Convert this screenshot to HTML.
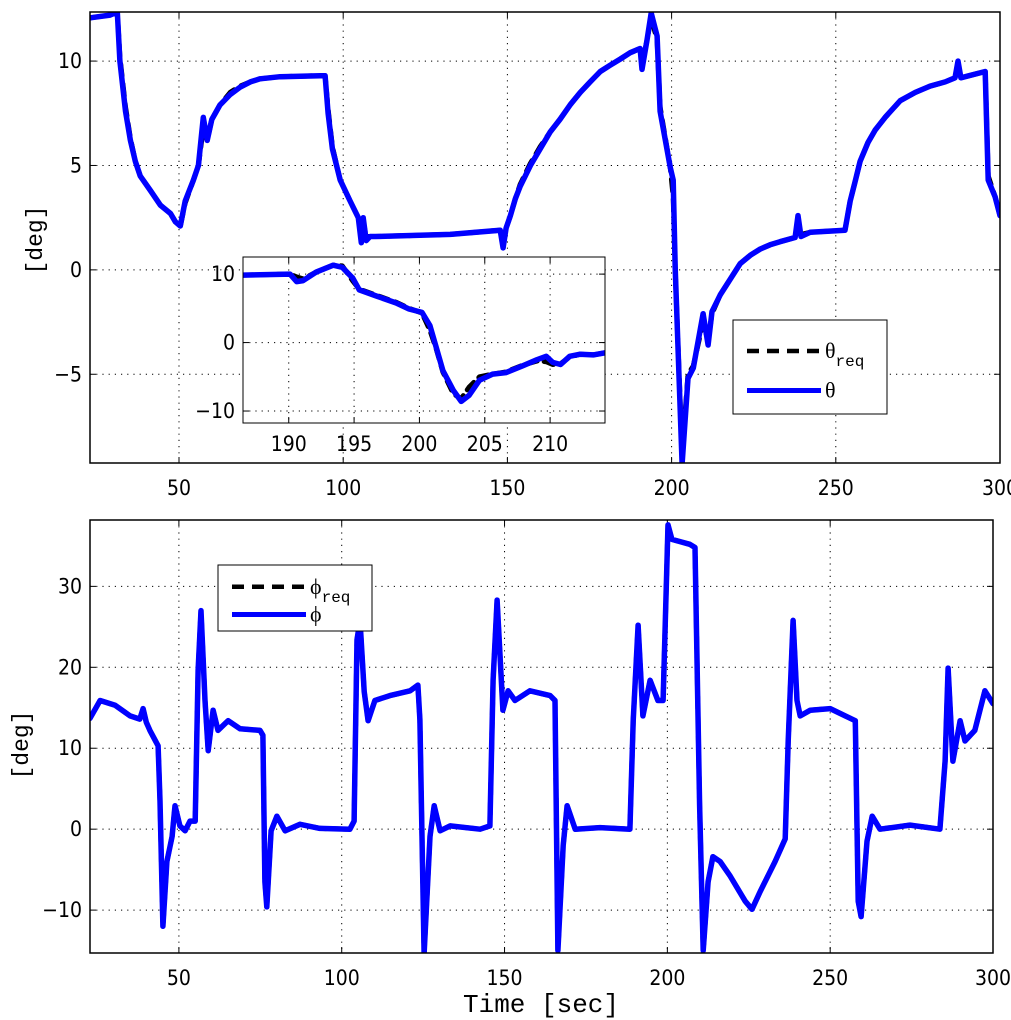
<!DOCTYPE html>
<html><head><meta charset="utf-8">
<style>
html,body{margin:0;padding:0;background:#fff;}
svg{display:block;}
.tick{font-family:"DejaVu Sans Condensed","Liberation Sans Narrow","Liberation Sans",sans-serif;font-size:21px;fill:#000;}
.mono{font-family:"Liberation Mono",monospace;fill:#000;}
</style></head>
<body>
<svg id="chart" width="1011" height="1020" viewBox="0 0 1011 1020" xmlns="http://www.w3.org/2000/svg"></svg>
<script>
// ---- Top plot (theta) data ----
const thetaT = [23,29,31.2,32,33.7,35.2,36.7,38.2,41.3,44.3,47.4,48.9,50.4,51.9,54.4,55.9,57.4,58.6,60,62.5,65.6,68.6,71.7,74.7,80.8,93,94.5,95.4,96.7,99.1,102.1,104.6,105.5,106.1,107,108.2,109.8,132.6,147.8,148.7,149.6,150.9,152.4,153.9,157,160,163,166,169.1,172.2,175.2,178.3,181.3,184.4,187.4,190.4,191,192.5,193.8,195.6,196.5,199.6,200.5,201.1,203.2,205,206.6,209.6,211.1,212.3,214.8,220.9,224,227,230,233,237.6,238.5,239.4,242.2,252.8,254.4,256,257.4,259.8,262,265,269.6,274.2,278.7,283.3,286.3,287.2,288.1,295.5,296.4,298.5,300];
const thetaV = [12.07,12.2,12.35,10,7.6,6.2,5.2,4.5,3.8,3.1,2.7,2.3,2.1,3.3,4.3,5,7.3,6.2,7.2,7.9,8.4,8.75,9.0,9.15,9.25,9.3,9.3,7.5,5.8,4.3,3.3,2.5,1.3,2.5,1.4,1.6,1.6,1.7,1.9,1.05,2,2.6,3.4,4.0,5,5.8,6.6,7.2,7.9,8.5,9.0,9.5,9.8,10.1,10.4,10.6,9.6,11,12.3,11.2,7.6,4.9,4.3,0.1,-9.3,-5.2,-4.7,-2.1,-3.6,-2,-1.2,0.3,0.7,1.0,1.2,1.35,1.55,2.6,1.6,1.8,1.9,3.3,4.3,5.2,6.1,6.7,7.3,8.1,8.5,8.8,9.0,9.2,10,9.2,9.5,4.3,3.5,2.6];
const thetaReqV = [12.07,12.2,12.35,10.2,7.8,6.3,5.2,4.5,3.8,3.1,2.7,2.3,2.1,3.2,4.3,5,6.8,6.2,7.2,7.9,8.5,8.8,9.0,9.15,9.25,9.3,9.3,7.7,5.9,4.3,3.3,2.5,1.7,2.3,1.6,1.6,1.6,1.7,1.9,1.3,2,2.6,3.4,4.1,5.1,5.9,6.6,7.2,7.9,8.5,9.0,9.5,9.8,10.1,10.4,10.6,9.8,11,12.1,11.0,7.8,4.9,3.5,0,-8.8,-5.0,-4.6,-2.5,-3.4,-2.1,-1.2,0.3,0.7,1.0,1.2,1.35,1.55,2.2,1.7,1.8,1.9,3.3,4.3,5.2,6.1,6.7,7.3,8.1,8.5,8.8,9.0,9.2,9.8,9.2,9.5,4.5,3.5,2.6];
const topXTicks = [50,100,150,200,250,300];
const topYTicks = [-5,0,5,10];
// ---- Inset data ----
const insT = [186.5,190.1,190.6,191.1,192.1,193.4,194.1,194.9,195.4,196.7,198.2,199.2,200.2,200.8,201.3,201.8,202.6,203.2,203.8,204.6,205.6,206.6,207.9,209,209.7,210.2,210.8,211.5,212.3,213.3,214.2];
const insV = [9.86,10,8.9,9.05,10.3,11.3,11,9.4,7.7,6.8,5.8,4.9,4.4,2.5,-0.8,-4.1,-7,-8.6,-7.7,-5.5,-4.6,-4.4,-3.4,-2.5,-2,-2.9,-3.2,-2,-1.7,-1.8,-1.5];
const insReqV = [9.86,10,9.6,9.3,10.3,11.3,11.2,9.0,7.8,6.9,5.9,5.0,4.3,1.8,-1,-4.3,-7.5,-8.2,-6.5,-5,-4.6,-4.3,-3.3,-2.7,-2.8,-3.2,-3.1,-2.1,-1.7,-1.8,-1.5];
const insXTicks = [190,195,200,205,210];
const insYTicks = [-10,0,10];
// ---- Bottom plot (phi) data ----
const phiT = [22.7,25.8,30.4,35,38,39,40,41.1,43.6,44.2,45.1,46.3,47.9,48.8,50.3,51.9,53.4,55,55.9,56.8,58,59,60.5,62,65.1,68.8,74.9,75.8,76.4,77,78.3,80.1,82.6,87.2,93.3,102.5,103.8,104.7,105.6,106.9,108.1,110.2,114.8,121,123.4,124,125.3,127.1,128.4,130.2,133.3,142.5,145.5,146.5,147.7,149.5,151.1,153.2,157.8,164,165.5,166.4,168,169.2,171.7,179.3,188.5,189.5,191,192.5,194.7,197.1,198.7,200.2,201.4,206.9,208.5,209.9,211,212.5,214,216.2,219.3,223.9,226,228.5,233.1,236.2,237.1,238.6,239.8,240.8,243.9,250,254.6,257.7,258.6,259.5,261.3,262.9,265.3,274.5,283.7,285.3,286.2,287.7,289.9,291.4,294.4,297.5,300];
const phiV = [13.7,15.9,15.3,14,13.6,14.9,13.2,12.2,10.3,3.5,-12,-4,-0.9,2.9,0.4,-0.2,1,1,19.6,27,15.9,9.7,14.7,12.2,13.4,12.4,12.2,11.6,-6.5,-9.6,-0.2,1.6,-0.2,0.6,0.1,0,1,23.4,25.8,17,13.4,15.9,16.5,17.1,17.8,13.5,-15.4,-0.9,2.9,-0.2,0.4,0,0.4,18.4,28.3,14.7,17.1,15.9,17.1,16.5,15.9,-15,-2,2.9,0,0.2,0,13.4,25.2,14,18.4,15.9,15.9,37.6,35.8,35.2,34.8,3,-15,-6.5,-3.4,-4,-5.8,-8.9,-9.9,-7.7,-4,-1.2,10.9,25.8,15.9,14,14.7,14.9,14,13.4,-8.9,-10.8,-1.5,1.6,0,0.5,0,8.4,19.9,8.4,13.4,10.9,12.2,17.1,15.5];
const phiReqV = phiV.slice();
const botXTicks = [50,100,150,200,250,300];
const botYTicks = [-10,0,10,20,30];

const NS='http://www.w3.org/2000/svg';
const svg=document.getElementById('chart');
function mk(tag,attrs,parent){const e=document.createElementNS(NS,tag);for(const k in attrs)e.setAttribute(k,attrs[k]);(parent||svg).appendChild(e);return e;}
function scale(d0,d1,r0,r1){return v=>r0+(v-d0)/(d1-d0)*(r1-r0);}

function axes(name,box,xd,yd,xticks,yticks,series,opts){
  const g=mk('g',{});
  
  
  const X=scale(xd[0],xd[1],box.x0,box.x1), Y=scale(yd[0],yd[1],box.y1,box.y0);
  const bg=mk('rect',{x:box.x0,y:box.y0,width:box.x1-box.x0,height:box.y1-box.y0,fill:'#fff'},g);
  
  
  const cid='clip-'+name;
  const cp=mk('clipPath',{id:cid},g);mk('rect',{x:box.x0,y:box.y0,width:box.x1-box.x0,height:box.y1-box.y0},cp);
  xticks.forEach(t=>{const x=X(t);
    const gl=mk('line',{x1:x,x2:x,y1:box.y0,y2:box.y1,stroke:'#000','stroke-width':1,'stroke-dasharray':'1.2 5'},g);
    
    mk('line',{x1:x,x2:x,y1:box.y1,y2:box.y1-6,stroke:'#000','stroke-width':1},g);
    mk('line',{x1:x,x2:x,y1:box.y0,y2:box.y0+6,stroke:'#000','stroke-width':1},g);
    const tl=mk('text',{x:x,y:box.y1+opts.xlab,'text-anchor':'middle',class:'tick'},g);tl.textContent=t;
    
  });
  yticks.forEach(t=>{const y=Y(t);
    const gl=mk('line',{x1:box.x0,x2:box.x1,y1:y,y2:y,stroke:'#000','stroke-width':1,'stroke-dasharray':'1.2 5'},g);
    
    mk('line',{x1:box.x0,x2:box.x0+6,y1:y,y2:y,stroke:'#000','stroke-width':1},g);
    mk('line',{x1:box.x1,x2:box.x1-6,y1:y,y2:y,stroke:'#000','stroke-width':1},g);
    const tl=mk('text',{x:box.x0-8,y:y+7,'text-anchor':'end',class:'tick'},g);tl.textContent=(t<0?'\u2212'+(-t):t);
    
  });
  const sg=mk('g',{'clip-path':'url(#'+cid+')'},g);
  series.forEach(s=>{
    const d=s.t.map((t,i)=>(i?'L':'M')+X(t).toFixed(1)+','+Y(s.v[i]).toFixed(1)).join('');
    const p=mk('path',{d:d,fill:'none',stroke:s.color,'stroke-width':s.w,'stroke-linejoin':'round','stroke-linecap':'round'},sg);
    if(s.dash)p.setAttribute('stroke-dasharray',s.dash);
    
  });
  const fr=mk('rect',{x:box.x0,y:box.y0,width:box.x1-box.x0,height:box.y1-box.y0,fill:'none',stroke:'#000','stroke-width':opts.frame||1.5},g);
  
  return g;
}

axes('theta-axes',{x0:90,x1:1000,y0:12,y1:463},[22.9,300],[-9.25,12.35],topXTicks,topYTicks,
 [{t:thetaT,v:thetaReqV,color:'#000',w:5,dash:'12 8',name:'theta-req-line'},{t:thetaT,v:thetaV,color:'#0000ff',w:5.5,name:'theta-line'}],{xlab:32});
axes('inset-axes',{x0:243,x1:605,y0:257,y1:423},[186.5,214.2],[-11.75,12.5],insXTicks,insYTicks,
 [{t:insT,v:insReqV,color:'#000',w:5,dash:'10 7',name:'inset-theta-req-line'},{t:insT,v:insV,color:'#0000ff',w:5.5,name:'inset-theta-line'}],{xlab:28,frame:1});
axes('phi-axes',{x0:90,x1:993,y0:520,y1:953},[22.7,300],[-15.3,38.2],botXTicks,botYTicks,
 [{t:phiT,v:phiReqV,color:'#000',w:5,dash:'12 8',name:'phi-req-line'},{t:phiT,v:phiV,color:'#0000ff',w:5.5,name:'phi-line'}],{xlab:32});

function legend(name,x,y,w,h,reqSym,sym){
  const g=mk('g',{});
  
  mk('rect',{x:x,y:y,width:w,height:h,fill:'#fff',stroke:'#000','stroke-width':1},g);
  const y1=y+h*0.33,y2=y+h*0.75;
  const l1=mk('line',{x1:x+14,x2:x+88,y1:y1,y2:y1,stroke:'#000','stroke-width':4.5,'stroke-dasharray':'12 8'},g);
  
  const l2=mk('line',{x1:x+14,x2:x+88,y1:y2,y2:y2,stroke:'#0000ff','stroke-width':5},g);
  
  const t1=mk('text',{x:x+92,y:y1+7,'font-family':'Liberation Serif,serif','font-size':22},g);
  
  t1.textContent=reqSym;
  const sub=mk('tspan',{dy:8,'font-family':'Liberation Mono,monospace','font-size':16},t1);sub.textContent='req';
  const t2=mk('text',{x:x+92,y:y2+7,'font-family':'Liberation Serif,serif','font-size':22},g);
  
  t2.textContent=sym;
}
legend('theta-legend',733,320,154,94,'\u03b8','\u03b8');
legend('phi-legend',218,565,154,66,'\u03d5','\u03d5');

const yl1=mk('text',{x:0,y:0,class:'mono','font-size':23,'text-anchor':'middle',transform:'translate(42,240) rotate(-90)'});
yl1.textContent='[deg]';
const yl2=mk('text',{x:0,y:0,class:'mono','font-size':23,'text-anchor':'middle',transform:'translate(28,745) rotate(-90)'});
yl2.textContent='[deg]';
const xl=mk('text',{x:541,y:1012,class:'mono','font-size':26,'text-anchor':'middle'});
xl.textContent='Time [sec]';
</script>
</body></html>
